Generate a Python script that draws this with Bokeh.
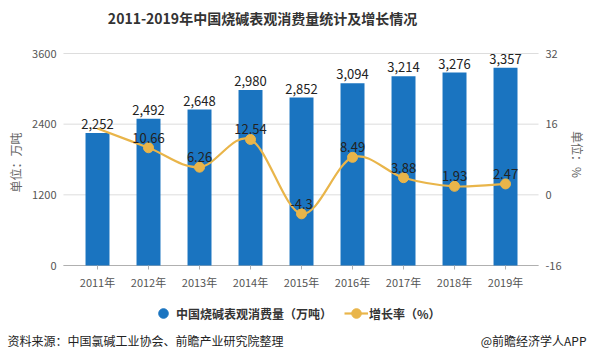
import math
from bokeh.plotting import figure
from bokeh.models import Range1d, Legend, LegendItem, ColumnDataSource
from bokeh.core.properties import value
from bokeh.embed import file_html
from bokeh.resources import INLINE

# ---- data ----
years = ["2011年", "2012年", "2013年", "2014年", "2015年", "2016年", "2017年", "2018年", "2019年"]
consumption = [2252, 2492, 2648, 2980, 2852, 3094, 3214, 3276, 3357]   # 万吨
growth = [15.0, 10.66, 6.26, 12.54, -4.3, 8.49, 3.88, 1.93, 2.47]      # %
growth_labels = ["", "10.66", "6.26", "12.54", "-4.3", "8.49", "3.88", "1.93", "2.47"]
left_ticks = [0, 1200, 2400, 3600]
right_ticks = [-16, 0, 16, 32]
title_text = "2011-2019年中国烧碱表观消费量统计及增长情况"
left_title = "单位：万吨"
right_title = "单位：%"
source_text = "资料来源：中国氯碱工业协会、前瞻产业研究院整理"
credit_text = "@前瞻经济学人APP"
legend_labels = ["中国烧碱表观消费量（万吨）", "增长率（%）"]

FONT = "Noto Sans CJK SC"
BAR = "#1a74c0"
GOLD = "#e9b54a"
TICK = "#555555"

W, H = 588, 348
xs = list(range(len(years)))

# The frame fills the canvas; the value axes are laid out inside it.
X0, X1 = -1.902, 9.627          # canvas left/right in category units
Y0, Y1 = -1409.4, 4500.0        # canvas bottom/top in 万吨
G0, G1 = -34.79, 44.0           # canvas bottom/top in %
XL, XR = -0.667, 8.647          # plot-area left/right

p = figure(width=W, height=H, output_backend="svg", toolbar_location=None,
           x_range=Range1d(X0, X1), y_range=Range1d(Y0, Y1),
           x_axis_location=None, y_axis_location=None, min_border=0)
p.extra_y_ranges = {"g": Range1d(G0, G1)}
p.outline_line_color = None
p.grid.visible = False

def txt(x, y, t, size="11px", align="center", baseline="middle", color=TICK, style="normal",
        angle=0.0, yr="default", **kw):
    p.text(x=x, y=y, text=t, text_align=align, text_baseline=baseline, angle=angle,
           text_font=value(FONT), text_font_size=size, text_color=color,
           text_font_style=style, y_range_name=yr, **kw)

# grid lines and bottom axis line
p.segment(x0=[XL] * len(left_ticks), x1=[XR] * len(left_ticks), y0=left_ticks, y1=left_ticks,
          line_color="#dddddd", line_width=1)
p.segment(x0=[XL], x1=[XR], y0=[0], y1=[0], line_color="#b0b0b0", line_width=1)

# bars
src = ColumnDataSource(dict(x=xs, v=consumption, lab=[f"{v:,}" for v in consumption]))
p.vbar(x="x", top="v", width=0.47, source=src, fill_color=BAR, line_color=None)
p.text(x="x", y="v", text="lab", source=src, text_align="center", text_baseline="bottom",
       y_offset=-4, text_font=value(FONT), text_font_size="13px", text_color="#222222")

# category ticks and labels
p.ray(x=xs, y=[0] * len(xs), length=4, length_units="screen", angle=-math.pi / 2,
      line_color="#b0b0b0")
txt(xs, [0] * len(xs), years, y_offset=16)

# value tick labels
txt([XL] * len(left_ticks), left_ticks, [str(t) for t in left_ticks], align="right", x_offset=-7)
txt([XR] * len(right_ticks), right_ticks, [str(t) for t in right_ticks], align="left",
    x_offset=7, yr="g")

# smooth growth line (Catmull-Rom -> cubic Bezier through the data points)
n = len(xs)
x0, y0, x1, y1, cx0, cy0, cx1, cy1 = [], [], [], [], [], [], [], []
for i in range(n - 1):
    pm = (xs[max(i - 1, 0)], growth[max(i - 1, 0)])
    pa = (xs[i], growth[i])
    pb = (xs[i + 1], growth[i + 1])
    pn = (xs[min(i + 2, n - 1)], growth[min(i + 2, n - 1)])
    k = 1 / 6
    x0.append(pa[0]); y0.append(pa[1]); x1.append(pb[0]); y1.append(pb[1])
    cx0.append(pa[0] + (pb[0] - pm[0]) * k); cy0.append(pa[1] + (pb[1] - pm[1]) * k)
    cx1.append(pb[0] - (pn[0] - pa[0]) * k); cy1.append(pb[1] - (pn[1] - pa[1]) * k)
curve = p.bezier(x0=x0, y0=y0, x1=x1, y1=y1, cx0=cx0, cy0=cy0, cx1=cx1, cy1=cy1,
                 line_color=GOLD, line_width=2.2, y_range_name="g")

gsrc = ColumnDataSource(dict(x=xs[1:], g=growth[1:], lab=growth_labels[1:]))
dots = p.scatter(x="x", y="g", source=gsrc, size=10, fill_color=GOLD, line_color=GOLD,
                 y_range_name="g")
p.text(x="x", y="g", text="lab", source=gsrc, text_align="center", text_baseline="bottom",
       y_offset=-5, text_font=value(FONT), text_font_size="13px", text_color="#222222",
       y_range_name="g")

# legend swatch for the bars (zero-size markers on the bar tops, only the legend shows them)
swatch = p.scatter(x="x", y="v", source=src, size=0, fill_color=BAR, line_color=BAR)

legend = Legend(items=[LegendItem(label=legend_labels[0], renderers=[swatch]),
                       LegendItem(label=legend_labels[1], renderers=[curve, dots])],
                orientation="horizontal", location=(151, 23),
                label_text_font=FONT, label_text_font_size="12px", label_text_font_style="bold",
                label_text_color="#333333", glyph_width=24, glyph_height=24, label_height=24,
                label_standoff=1, spacing=12, background_fill_alpha=0,
                border_line_color=None, padding=0, margin=0)
p.add_layout(legend)

# titles and footer
txt([3.235], [4211], [title_text], size="14px", style="bold", color="#333333")
txt([-1.608], [1749], [left_title], size="12px", color="#666666", angle=math.pi / 2)
txt([9.412], [1885], [right_title], size="12px", color="#666666", angle=-math.pi / 2)
txt([-1.765], [-1273.5], [source_text], size="12px", align="left", color="#222222")
txt([9.588], [-1273.5], [credit_text], size="12px", align="right", color="#222222")

open("out.html", "w").write(file_html(p, INLINE))
